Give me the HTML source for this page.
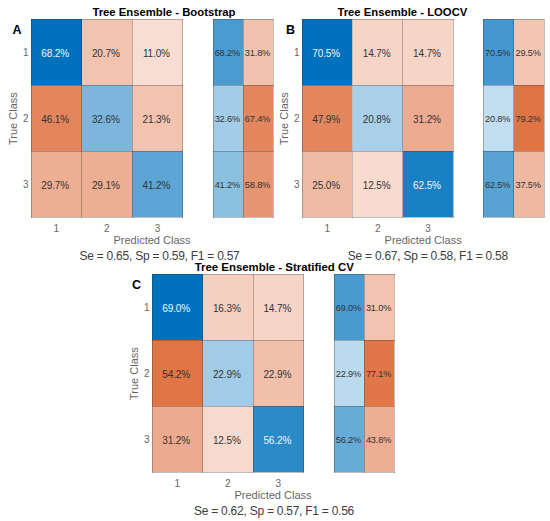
<!DOCTYPE html><html><head><meta charset="utf-8"><style>
*{margin:0;padding:0;box-sizing:border-box}
html,body{width:550px;height:521px;background:#fff;overflow:hidden;position:relative;font-family:"Liberation Sans",sans-serif}
.c{position:absolute;font-size:10px;white-space:nowrap;text-align:center;line-height:10px;letter-spacing:-0.12px}
.s{font-size:9.2px;line-height:9px;letter-spacing:-0.15px}
.g{position:absolute;background:rgba(40,40,40,0.3)}
.t{position:absolute;white-space:nowrap;line-height:1}
.tit{font-weight:bold;font-size:11.3px;color:#000}
.lab{font-weight:bold;font-size:12.5px;color:#000}
.tk{font-size:10px;color:#666}
.ax{font-size:11px;color:#666}
.se{font-size:12px;color:#404040;letter-spacing:-0.25px}
</style></head><body><div class="c" style="left:31.0px;top:19.3px;width:50.6px;height:66px;background:#0072bd"></div>
<div class="c" style="left:29.9px;top:49.1px;width:50.6px;color:#f0f5fa">68.2%</div>
<div class="c" style="left:81.6px;top:19.3px;width:50.6px;height:66px;background:#f2c4b0"></div>
<div class="c" style="left:80.5px;top:49.1px;width:50.6px;color:#333333">20.7%</div>
<div class="c" style="left:132.2px;top:19.3px;width:50.6px;height:66px;background:#f8ded2"></div>
<div class="c" style="left:131.1px;top:49.1px;width:50.6px;color:#333333">11.0%</div>
<div class="c" style="left:31.0px;top:85.3px;width:50.6px;height:66px;background:#e4865d"></div>
<div class="c" style="left:29.9px;top:115.1px;width:50.6px;color:#333333">46.1%</div>
<div class="c" style="left:81.6px;top:85.3px;width:50.6px;height:66px;background:#7cb6dd"></div>
<div class="c" style="left:80.5px;top:115.1px;width:50.6px;color:#333333">32.6%</div>
<div class="c" style="left:132.2px;top:85.3px;width:50.6px;height:66px;background:#f2c3ae"></div>
<div class="c" style="left:131.1px;top:115.1px;width:50.6px;color:#333333">21.3%</div>
<div class="c" style="left:31.0px;top:151.3px;width:50.6px;height:66px;background:#edae92"></div>
<div class="c" style="left:29.9px;top:181.1px;width:50.6px;color:#333333">29.7%</div>
<div class="c" style="left:81.6px;top:151.3px;width:50.6px;height:66px;background:#edaf94"></div>
<div class="c" style="left:80.5px;top:181.1px;width:50.6px;color:#333333">29.1%</div>
<div class="c" style="left:132.2px;top:151.3px;width:50.6px;height:66px;background:#5da5d5"></div>
<div class="c" style="left:131.1px;top:181.1px;width:50.6px;color:#333333">41.2%</div>
<div class="c s" style="left:213.0px;top:19.3px;width:30.2px;height:66px;background:#4a9bd0"></div>
<div class="c s" style="left:212.2px;top:48.8px;width:30.2px;color:#333333">68.2%</div>
<div class="c s" style="left:243.2px;top:19.3px;width:30.2px;height:66px;background:#f1c2ad"></div>
<div class="c s" style="left:242.4px;top:48.8px;width:30.2px;color:#333333">31.8%</div>
<div class="c s" style="left:213.0px;top:85.3px;width:30.2px;height:66px;background:#a2cce7"></div>
<div class="c s" style="left:212.2px;top:114.8px;width:30.2px;color:#333333">32.6%</div>
<div class="c s" style="left:243.2px;top:85.3px;width:30.2px;height:66px;background:#e4865e"></div>
<div class="c s" style="left:242.4px;top:114.8px;width:30.2px;color:#333333">67.4%</div>
<div class="c s" style="left:213.0px;top:151.3px;width:30.2px;height:66px;background:#8cc0e1"></div>
<div class="c s" style="left:212.2px;top:180.8px;width:30.2px;color:#333333">41.2%</div>
<div class="c s" style="left:243.2px;top:151.3px;width:30.2px;height:66px;background:#e79470"></div>
<div class="c s" style="left:242.4px;top:180.8px;width:30.2px;color:#333333">58.8%</div>
<div class="g" style="left:30.5px;top:18.8px;width:1px;height:199px"></div>
<div class="g" style="left:30.5px;top:18.8px;width:152.8px;height:1px"></div>
<div class="g" style="left:212.5px;top:18.8px;width:61.5px;height:1px"></div>
<div class="g" style="left:81.1px;top:18.8px;width:1px;height:199px"></div>
<div class="g" style="left:30.5px;top:84.8px;width:152.8px;height:1px"></div>
<div class="g" style="left:212.5px;top:84.8px;width:61.5px;height:1px"></div>
<div class="g" style="left:131.7px;top:18.8px;width:1px;height:199px"></div>
<div class="g" style="left:30.5px;top:150.8px;width:152.8px;height:1px"></div>
<div class="g" style="left:212.5px;top:150.8px;width:61.5px;height:1px"></div>
<div class="g" style="left:182.3px;top:18.8px;width:1px;height:199px"></div>
<div class="g" style="left:30.5px;top:216.8px;width:152.8px;height:1px"></div>
<div class="g" style="left:212.5px;top:216.8px;width:61.5px;height:1px"></div>
<div class="g" style="left:212.5px;top:18.8px;width:1px;height:199px"></div>
<div class="g" style="left:242.8px;top:18.8px;width:1px;height:199px"></div>
<div class="g" style="left:273.0px;top:18.8px;width:1px;height:199px"></div>
<div class="t lab" style="left:12.4px;top:23.6px">A</div>
<div class="t tit" style="left:92.4px;top:6.6px;font-size:11.3px">Tree Ensemble - Bootstrap</div>
<div class="t tk" style="left:23.0px;top:48.3px">1</div>
<div class="t tk" style="left:23.0px;top:114.3px">2</div>
<div class="t tk" style="left:23.0px;top:180.3px">3</div>
<div class="t tk" style="left:53.5px;top:224.0px">1</div>
<div class="t tk" style="left:104.1px;top:224.0px">2</div>
<div class="t tk" style="left:154.7px;top:224.0px">3</div>
<div class="t ax" style="left:113.5px;top:235.1px">Predicted Class</div>
<div class="t ax" style="left:7.7px;top:145.0px;transform:rotate(-90deg);transform-origin:0 0">True Class</div>
<div class="t se" style="left:79.5px;top:249.5px">Se = 0.65, Sp = 0.59, F1 = 0.57</div>
<div class="c" style="left:302.1px;top:19.3px;width:50.4px;height:66px;background:#0072bd"></div>
<div class="c" style="left:301.0px;top:49.1px;width:50.4px;color:#f0f5fa">70.5%</div>
<div class="c" style="left:352.5px;top:19.3px;width:50.4px;height:66px;background:#f6d5c7"></div>
<div class="c" style="left:351.4px;top:49.1px;width:50.4px;color:#333333">14.7%</div>
<div class="c" style="left:402.9px;top:19.3px;width:50.4px;height:66px;background:#f6d5c7"></div>
<div class="c" style="left:401.8px;top:49.1px;width:50.4px;color:#333333">14.7%</div>
<div class="c" style="left:302.1px;top:85.3px;width:50.4px;height:66px;background:#e4865d"></div>
<div class="c" style="left:301.0px;top:115.1px;width:50.4px;color:#333333">47.9%</div>
<div class="c" style="left:352.5px;top:85.3px;width:50.4px;height:66px;background:#aad0e9"></div>
<div class="c" style="left:351.4px;top:115.1px;width:50.4px;color:#333333">20.8%</div>
<div class="c" style="left:402.9px;top:85.3px;width:50.4px;height:66px;background:#edac91"></div>
<div class="c" style="left:401.8px;top:115.1px;width:50.4px;color:#333333">31.2%</div>
<div class="c" style="left:302.1px;top:151.3px;width:50.4px;height:66px;background:#f0bba5"></div>
<div class="c" style="left:301.0px;top:181.1px;width:50.4px;color:#333333">25.0%</div>
<div class="c" style="left:352.5px;top:151.3px;width:50.4px;height:66px;background:#f7dbcf"></div>
<div class="c" style="left:351.4px;top:181.1px;width:50.4px;color:#333333">12.5%</div>
<div class="c" style="left:402.9px;top:151.3px;width:50.4px;height:66px;background:#1a80c4"></div>
<div class="c" style="left:401.8px;top:181.1px;width:50.4px;color:#f0f5fa">62.5%</div>
<div class="c s" style="left:483.3px;top:19.3px;width:30.4px;height:66px;background:#4598cf"></div>
<div class="c s" style="left:482.5px;top:48.8px;width:30.4px;color:#333333">70.5%</div>
<div class="c s" style="left:513.6px;top:19.3px;width:30.4px;height:66px;background:#f2c6b2"></div>
<div class="c s" style="left:512.9px;top:48.8px;width:30.4px;color:#333333">29.5%</div>
<div class="c s" style="left:483.3px;top:85.3px;width:30.4px;height:66px;background:#c1ddef"></div>
<div class="c s" style="left:482.5px;top:114.8px;width:30.4px;color:#333333">20.8%</div>
<div class="c s" style="left:513.6px;top:85.3px;width:30.4px;height:66px;background:#e07445"></div>
<div class="c s" style="left:512.9px;top:114.8px;width:30.4px;color:#333333">79.2%</div>
<div class="c s" style="left:483.3px;top:151.3px;width:30.4px;height:66px;background:#58a3d4"></div>
<div class="c s" style="left:482.5px;top:180.8px;width:30.4px;color:#333333">62.5%</div>
<div class="c s" style="left:513.6px;top:151.3px;width:30.4px;height:66px;background:#efb8a0"></div>
<div class="c s" style="left:512.9px;top:180.8px;width:30.4px;color:#333333">37.5%</div>
<div class="g" style="left:301.6px;top:18.8px;width:1px;height:199px"></div>
<div class="g" style="left:301.6px;top:18.8px;width:152.2px;height:1px"></div>
<div class="g" style="left:482.8px;top:18.8px;width:61.7px;height:1px"></div>
<div class="g" style="left:352.0px;top:18.8px;width:1px;height:199px"></div>
<div class="g" style="left:301.6px;top:84.8px;width:152.2px;height:1px"></div>
<div class="g" style="left:482.8px;top:84.8px;width:61.7px;height:1px"></div>
<div class="g" style="left:402.4px;top:18.8px;width:1px;height:199px"></div>
<div class="g" style="left:301.6px;top:150.8px;width:152.2px;height:1px"></div>
<div class="g" style="left:482.8px;top:150.8px;width:61.7px;height:1px"></div>
<div class="g" style="left:452.8px;top:18.8px;width:1px;height:199px"></div>
<div class="g" style="left:301.6px;top:216.8px;width:152.2px;height:1px"></div>
<div class="g" style="left:482.8px;top:216.8px;width:61.7px;height:1px"></div>
<div class="g" style="left:482.8px;top:18.8px;width:1px;height:199px"></div>
<div class="g" style="left:513.1px;top:18.8px;width:1px;height:199px"></div>
<div class="g" style="left:543.5px;top:18.8px;width:1px;height:199px"></div>
<div class="t lab" style="left:285.9px;top:23.6px">B</div>
<div class="t tit" style="left:337.4px;top:6.6px;font-size:11.3px">Tree Ensemble - LOOCV</div>
<div class="t tk" style="left:294.1px;top:48.3px">1</div>
<div class="t tk" style="left:294.1px;top:114.3px">2</div>
<div class="t tk" style="left:294.1px;top:180.3px">3</div>
<div class="t tk" style="left:324.5px;top:224.0px">1</div>
<div class="t tk" style="left:374.9px;top:224.0px">2</div>
<div class="t tk" style="left:425.3px;top:224.0px">3</div>
<div class="t ax" style="left:384.6px;top:235.1px">Predicted Class</div>
<div class="t ax" style="left:278.8px;top:145.0px;transform:rotate(-90deg);transform-origin:0 0">True Class</div>
<div class="t se" style="left:347.8px;top:249.9px">Se = 0.67, Sp = 0.58, F1 = 0.58</div>
<div class="c" style="left:152.0px;top:274.4px;width:50.6px;height:66px;background:#0072bd"></div>
<div class="c" style="left:150.9px;top:304.2px;width:50.6px;color:#f0f5fa">69.0%</div>
<div class="c" style="left:202.6px;top:274.4px;width:50.6px;height:66px;background:#f5d0c0"></div>
<div class="c" style="left:201.5px;top:304.2px;width:50.6px;color:#333333">16.3%</div>
<div class="c" style="left:253.1px;top:274.4px;width:50.6px;height:66px;background:#f6d4c6"></div>
<div class="c" style="left:252.0px;top:304.2px;width:50.6px;color:#333333">14.7%</div>
<div class="c" style="left:152.0px;top:340.4px;width:50.6px;height:66px;background:#e07546"></div>
<div class="c" style="left:150.9px;top:370.2px;width:50.6px;color:#333333">54.2%</div>
<div class="c" style="left:202.6px;top:340.4px;width:50.6px;height:66px;background:#a1cbe7"></div>
<div class="c" style="left:201.5px;top:370.2px;width:50.6px;color:#333333">22.9%</div>
<div class="c" style="left:253.1px;top:340.4px;width:50.6px;height:66px;background:#f1bfaa"></div>
<div class="c" style="left:252.0px;top:370.2px;width:50.6px;color:#333333">22.9%</div>
<div class="c" style="left:152.0px;top:406.4px;width:50.6px;height:66px;background:#ecab8e"></div>
<div class="c" style="left:150.9px;top:436.2px;width:50.6px;color:#333333">31.2%</div>
<div class="c" style="left:202.6px;top:406.4px;width:50.6px;height:66px;background:#f7dace"></div>
<div class="c" style="left:201.5px;top:436.2px;width:50.6px;color:#333333">12.5%</div>
<div class="c" style="left:253.1px;top:406.4px;width:50.6px;height:66px;background:#2b8ac8"></div>
<div class="c" style="left:252.0px;top:436.2px;width:50.6px;color:#f0f5fa">56.2%</div>
<div class="c s" style="left:334.2px;top:274.4px;width:30.1px;height:66px;background:#489ad0"></div>
<div class="c s" style="left:333.4px;top:303.9px;width:30.1px;color:#333333">69.0%</div>
<div class="c s" style="left:364.3px;top:274.4px;width:30.1px;height:66px;background:#f2c3af"></div>
<div class="c s" style="left:363.5px;top:303.9px;width:30.1px;color:#333333">31.0%</div>
<div class="c s" style="left:334.2px;top:340.4px;width:30.1px;height:66px;background:#bbdaed"></div>
<div class="c s" style="left:333.4px;top:369.9px;width:30.1px;color:#333333">22.9%</div>
<div class="c s" style="left:364.3px;top:340.4px;width:30.1px;height:66px;background:#e17749"></div>
<div class="c s" style="left:363.5px;top:369.9px;width:30.1px;color:#333333">77.1%</div>
<div class="c s" style="left:334.2px;top:406.4px;width:30.1px;height:66px;background:#67abd8"></div>
<div class="c s" style="left:333.4px;top:435.9px;width:30.1px;color:#333333">56.2%</div>
<div class="c s" style="left:364.3px;top:406.4px;width:30.1px;height:66px;background:#edad92"></div>
<div class="c s" style="left:363.5px;top:435.9px;width:30.1px;color:#333333">43.8%</div>
<div class="g" style="left:151.5px;top:273.9px;width:1px;height:199px"></div>
<div class="g" style="left:151.5px;top:273.9px;width:152.7px;height:1px"></div>
<div class="g" style="left:333.7px;top:273.9px;width:61.2px;height:1px"></div>
<div class="g" style="left:202.1px;top:273.9px;width:1px;height:199px"></div>
<div class="g" style="left:151.5px;top:339.9px;width:152.7px;height:1px"></div>
<div class="g" style="left:333.7px;top:339.9px;width:61.2px;height:1px"></div>
<div class="g" style="left:252.6px;top:273.9px;width:1px;height:199px"></div>
<div class="g" style="left:151.5px;top:405.9px;width:152.7px;height:1px"></div>
<div class="g" style="left:333.7px;top:405.9px;width:61.2px;height:1px"></div>
<div class="g" style="left:303.2px;top:273.9px;width:1px;height:199px"></div>
<div class="g" style="left:151.5px;top:471.9px;width:152.7px;height:1px"></div>
<div class="g" style="left:333.7px;top:471.9px;width:61.2px;height:1px"></div>
<div class="g" style="left:333.7px;top:273.9px;width:1px;height:199px"></div>
<div class="g" style="left:363.8px;top:273.9px;width:1px;height:199px"></div>
<div class="g" style="left:393.9px;top:273.9px;width:1px;height:199px"></div>
<div class="t lab" style="left:132.0px;top:279.1px">C</div>
<div class="t tit" style="left:194.7px;top:261.7px;font-size:11.42px">Tree Ensemble - Stratified CV</div>
<div class="t tk" style="left:144.0px;top:303.4px">1</div>
<div class="t tk" style="left:144.0px;top:369.4px">2</div>
<div class="t tk" style="left:144.0px;top:435.4px">3</div>
<div class="t tk" style="left:174.5px;top:479.1px">1</div>
<div class="t tk" style="left:225.1px;top:479.1px">2</div>
<div class="t tk" style="left:275.6px;top:479.1px">3</div>
<div class="t ax" style="left:234.5px;top:490.2px">Predicted Class</div>
<div class="t ax" style="left:128.7px;top:400.1px;transform:rotate(-90deg);transform-origin:0 0">True Class</div>
<div class="t se" style="left:194.0px;top:505.2px">Se = 0.62, Sp = 0.57, F1 = 0.56</div></body></html>
